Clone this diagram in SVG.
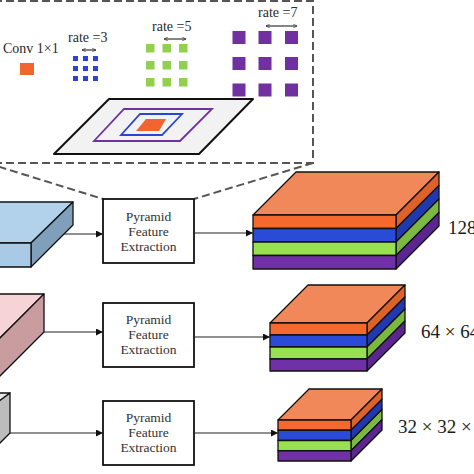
<svg xmlns="http://www.w3.org/2000/svg" width="474" height="474" viewBox="0 0 474 474">
<style>
.lbl{font-family:"Liberation Serif","DejaVu Serif",serif;fill:#2a2a2a;font-size:14px}
.box{fill:#fff;stroke:#111;stroke-width:1.8}
.bt{font-family:"Liberation Serif","DejaVu Serif",serif;fill:#333;font-size:13.5px;text-anchor:middle}
.dim{font-family:"Liberation Serif","DejaVu Serif",serif;fill:#1a1a1a;font-size:19px}
.dash{fill:none;stroke:#555;stroke-width:2;stroke-dasharray:8 4}
.con{stroke:#222;stroke-width:1.1;fill:none}
.edge{stroke:#111;stroke-width:1.3;stroke-linejoin:round}
.o{fill:#f5692f}.ot{fill:#f0885a}.os{fill:#dd6129}
.b{fill:#2a4ad8}.bs{fill:#2238b2}
.g{fill:#98e050}.gs{fill:#7bb840}
.p{fill:#7030a8}.ps{fill:#5b2690}
.dot-b{fill:#2b44d6}.dot-g{fill:#92d050}.dot-p{fill:#7030a0}
</style>
<defs>
<marker id="ah" viewBox="0 0 10 10" refX="10" refY="5" markerWidth="7" markerHeight="7" markerUnits="userSpaceOnUse" orient="auto">
<path d="M0,0 L10,5 L0,10 z" fill="#111"/>
</marker>
<marker id="sa" viewBox="0 0 10 10" refX="10" refY="5" markerWidth="4" markerHeight="4" markerUnits="userSpaceOnUse" orient="auto-start-reverse">
<path d="M0,0 L10,5 L0,10" fill="none" stroke="#222" stroke-width="1.5"/>
</marker>
</defs>

<g id="zoom-panel">
<rect class="dash" x="-6" y="1" width="319" height="162"/>
<text class="lbl" x="3" y="53">Conv 1×1</text>
<rect x="20" y="63" width="14" height="12" fill="#f26530"/>
<text class="lbl" x="68" y="42">rate =3</text>
<line class="con" x1="82" y1="50" x2="96" y2="50" marker-start="url(#sa)" marker-end="url(#sa)" stroke-width="0.9"/>
<g class="dot-b">
<rect x="73" y="56" width="5" height="5"/><rect x="83" y="56" width="5" height="5"/><rect x="93" y="56" width="5" height="5"/>
<rect x="73" y="66" width="5" height="5"/><rect x="83" y="66" width="5" height="5"/><rect x="93" y="66" width="5" height="5"/>
<rect x="73" y="76" width="5" height="5"/><rect x="83" y="76" width="5" height="5"/><rect x="93" y="76" width="5" height="5"/>
</g>
<text class="lbl" x="152" y="31">rate =5</text>
<line class="con" x1="164" y1="39" x2="186" y2="39" marker-start="url(#sa)" marker-end="url(#sa)" stroke-width="0.9"/>
<g class="dot-g">
<rect x="146" y="44" width="8.5" height="8.5"/><rect x="162.5" y="44" width="8.5" height="8.5"/><rect x="179" y="44" width="8.5" height="8.5"/>
<rect x="146" y="61" width="8.5" height="8.5"/><rect x="162.5" y="61" width="8.5" height="8.5"/><rect x="179" y="61" width="8.5" height="8.5"/>
<rect x="146" y="78" width="8.5" height="8.5"/><rect x="162.5" y="78" width="8.5" height="8.5"/><rect x="179" y="78" width="8.5" height="8.5"/>
</g>
<text class="lbl" x="258" y="17">rate =7</text>
<line class="con" x1="266" y1="26" x2="297" y2="26" marker-start="url(#sa)" marker-end="url(#sa)" stroke-width="0.9"/>
<g class="dot-p">
<rect x="232.5" y="31" width="13" height="13"/><rect x="258.5" y="31" width="13" height="13"/><rect x="285" y="31" width="13" height="13"/>
<rect x="232.5" y="57" width="13" height="13"/><rect x="258.5" y="57" width="13" height="13"/><rect x="285" y="57" width="13" height="13"/>
<rect x="232.5" y="83.5" width="13" height="13"/><rect x="258.5" y="83.5" width="13" height="13"/><rect x="285" y="83.5" width="13" height="13"/>
</g>
<polygon points="109,99 253,99 199,154 54,154" fill="#f2f2f2" stroke="#111" stroke-width="2" stroke-linejoin="round"/>
<polygon points="124,109 212,109 180,141 94,141" fill="none" stroke="#7030a0" stroke-width="1.8"/>
<polygon points="140,114 182,114 162,135 121,135" fill="none" stroke="#2b44d6" stroke-width="1.8"/>
<polygon points="146,119 166,119 159,131 136,131" fill="#f26530"/>
<line class="dash" x1="-13" y1="163" x2="103" y2="199" stroke-width="1.8"/>
<line class="dash" x1="313" y1="163" x2="194" y2="199" stroke-width="1.8"/>
</g>

<g id="input-1">
<polygon points="-2,202 73,202 31,243 -2,243" fill="#b2d2ec" class="edge"/>
<polygon points="73,202 73,225 31,267 31,243" fill="#7f9fbb" class="edge"/>
<rect x="-2" y="243" width="33" height="24" fill="#a8cae6" class="edge"/>
</g>
<g id="input-2">
<polygon points="-2,294 44,294 -2,340" fill="#f5d3d7" class="edge"/>
<polygon points="44,294 44,332 -2,378 -2,340" fill="#c99ca0" class="edge"/>
</g>
<g id="input-3">
<polygon points="-2,393 10,393 -2,402" fill="#e6e6e6" class="edge"/>
<polygon points="10,393 10,433 -2,445 -2,402" fill="#bcbcbc" class="edge"/>
</g>

<g id="pfe-1">
<rect class="box" x="103" y="199" width="91" height="64"/>
<text class="bt" x="148.5" y="221">Pyramid</text>
<text class="bt" x="148.5" y="236">Feature</text>
<text class="bt" x="148.5" y="251">Extraction</text>
</g>
<g id="pfe-2">
<rect class="box" x="103" y="303" width="91" height="64"/>
<text class="bt" x="148.5" y="324">Pyramid</text>
<text class="bt" x="148.5" y="339">Feature</text>
<text class="bt" x="148.5" y="354">Extraction</text>
</g>
<g id="pfe-3">
<rect class="box" x="103" y="401" width="91" height="64"/>
<text class="bt" x="148.5" y="422">Pyramid</text>
<text class="bt" x="148.5" y="437">Feature</text>
<text class="bt" x="148.5" y="452">Extraction</text>
</g>

<g id="output-1">
<polygon class="ot edge" points="253,215 396,215 439,172 296,172"/>
<polygon class="os edge" points="396,215 439,172 439,185.5 396,228.5"/>
<polygon class="bs edge" points="396,228.5 439,185.5 439,199 396,242"/>
<polygon class="gs edge" points="396,242 439,199 439,212.5 396,255.5"/>
<polygon class="ps edge" points="396,255.5 439,212.5 439,226 396,269"/>
<rect class="o edge" x="253" y="215" width="143" height="13.5"/>
<rect class="b edge" x="253" y="228.5" width="143" height="13.5"/>
<rect class="g edge" x="253" y="242" width="143" height="13.5"/>
<rect class="p edge" x="253" y="255.5" width="143" height="13.5"/>
<text class="dim" x="448" y="234">128</text>
</g>
<g id="output-2">
<polygon class="ot edge" points="270,323 367,323 405,285 308,285"/>
<polygon class="os edge" points="367,323 405,285 405,297 367,335"/>
<polygon class="bs edge" points="367,335 405,297 405,309 367,347"/>
<polygon class="gs edge" points="367,347 405,309 405,321 367,359"/>
<polygon class="ps edge" points="367,359 405,321 405,333 367,371"/>
<rect class="o edge" x="270" y="323" width="97" height="12"/>
<rect class="b edge" x="270" y="335" width="97" height="12"/>
<rect class="g edge" x="270" y="347" width="97" height="12"/>
<rect class="p edge" x="270" y="359" width="97" height="12"/>
<text class="dim" x="421" y="338">64 × 64</text>
</g>
<g id="output-3">
<polygon class="ot edge" points="278,420 351,420 382,389 309,389"/>
<polygon class="os edge" points="351,420 382,389 382,399.25 351,430.25"/>
<polygon class="bs edge" points="351,430.25 382,399.25 382,409.5 351,440.5"/>
<polygon class="gs edge" points="351,440.5 382,409.5 382,419.75 351,450.75"/>
<polygon class="ps edge" points="351,450.75 382,419.75 382,430 351,461"/>
<rect class="o edge" x="278" y="420" width="73" height="10.25"/>
<rect class="b edge" x="278" y="430.25" width="73" height="10.25"/>
<rect class="g edge" x="278" y="440.5" width="73" height="10.25"/>
<rect class="p edge" x="278" y="450.75" width="73" height="10.25"/>
<text class="dim" x="398" y="433">32 × 32 ×</text>
</g>

<g id="connectors">
<line class="con" x1="64" y1="234" x2="103" y2="234" marker-end="url(#ah)"/>
<line class="con" x1="194" y1="233" x2="253" y2="233" marker-end="url(#ah)"/>
<line class="con" x1="44" y1="332" x2="103" y2="332" marker-end="url(#ah)"/>
<line class="con" x1="194" y1="337" x2="270" y2="337" marker-end="url(#ah)"/>
<line class="con" x1="10" y1="433" x2="103" y2="433" marker-end="url(#ah)"/>
<line class="con" x1="194" y1="433" x2="278" y2="433" marker-end="url(#ah)"/>
</g>
</svg>
